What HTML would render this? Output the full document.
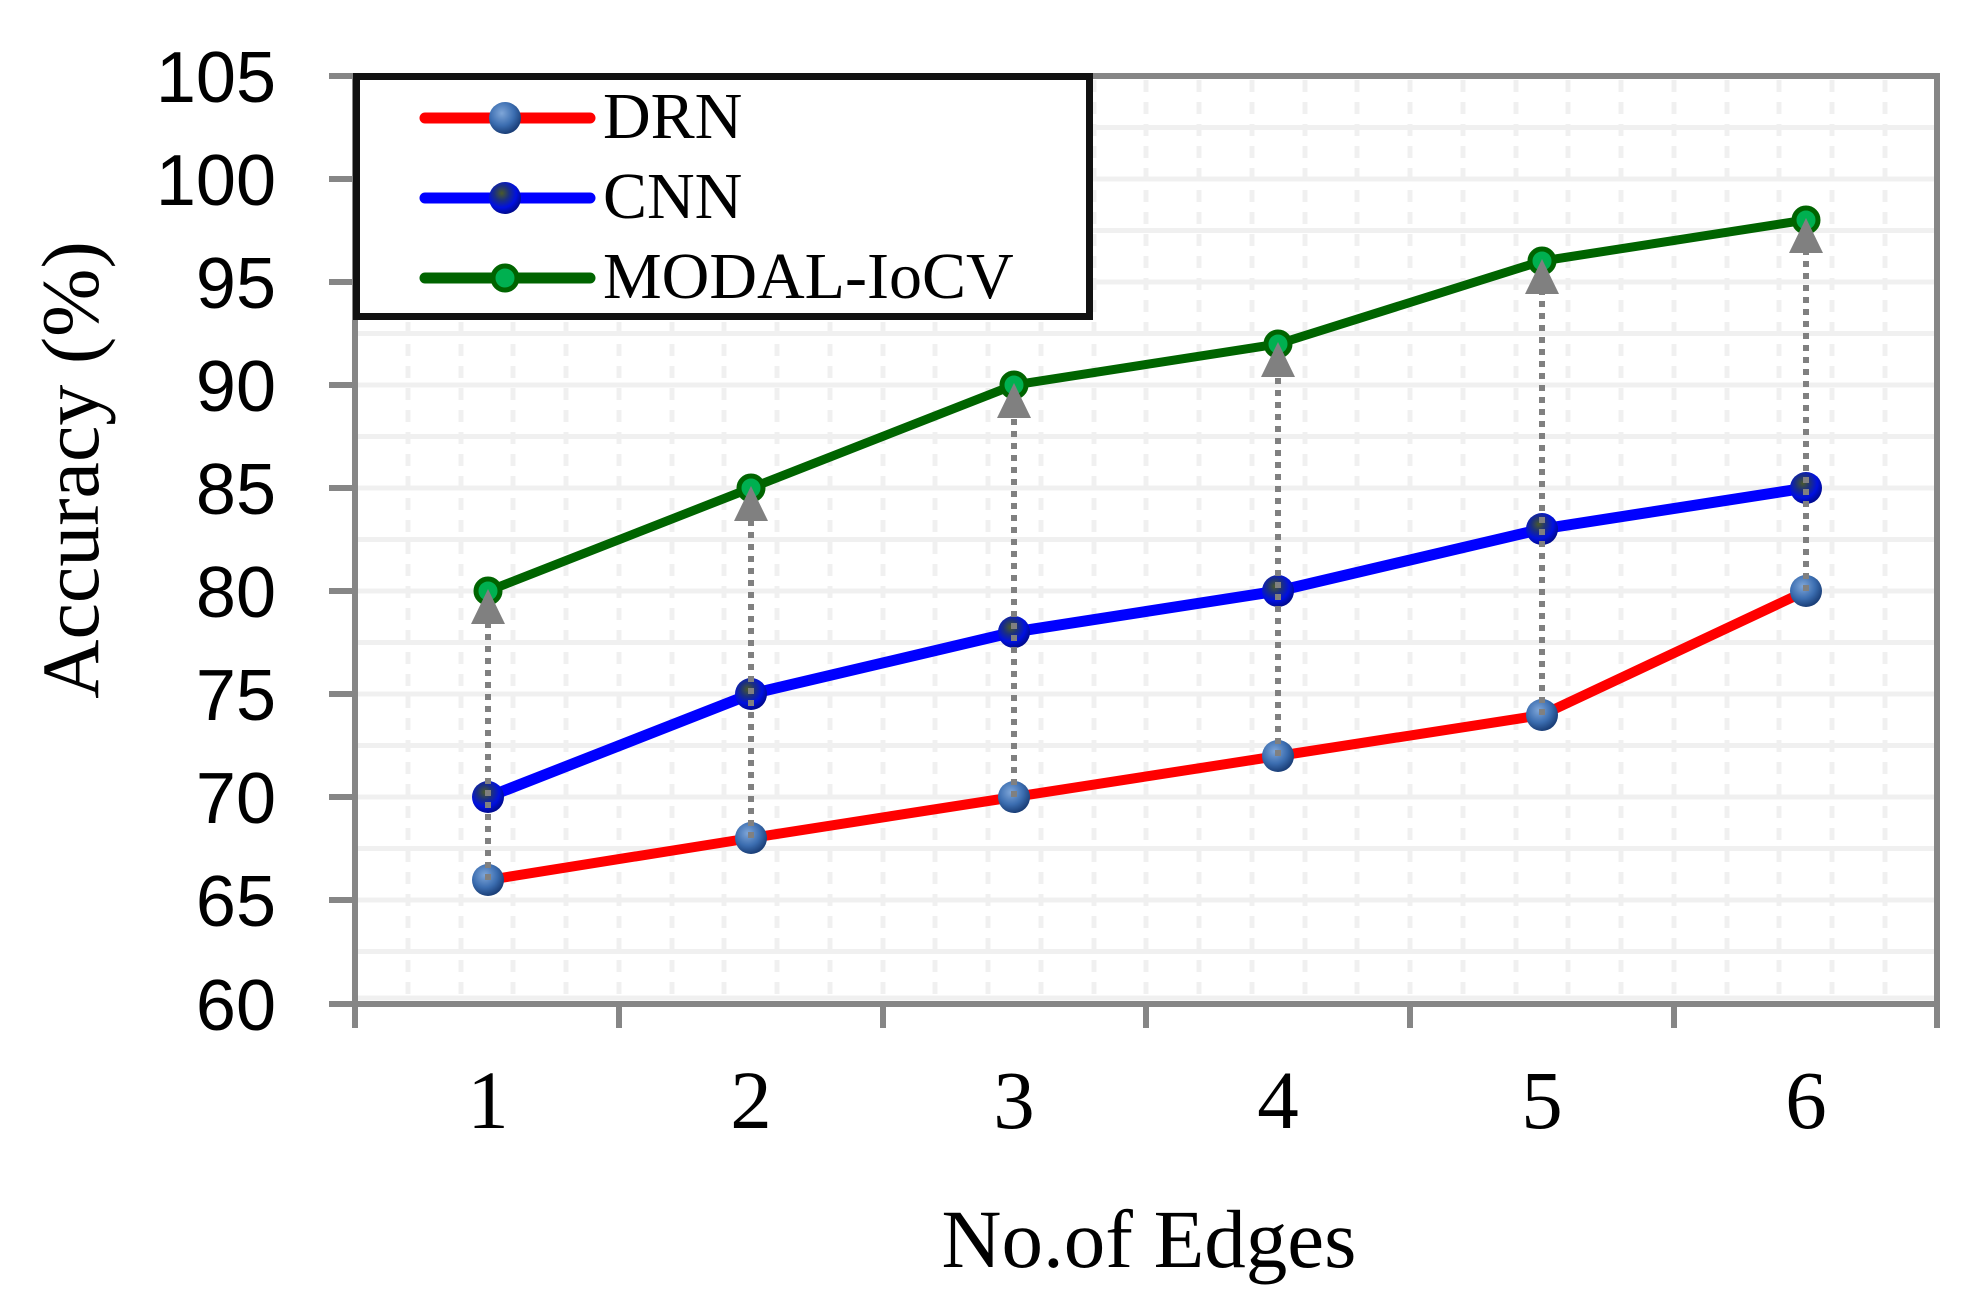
<!DOCTYPE html>
<html><head><meta charset="utf-8"><style>
html,body{margin:0;padding:0;background:#fff;}
svg{display:block;}
</style></head><body>
<svg width="1977" height="1299" viewBox="0 0 1977 1299" xmlns="http://www.w3.org/2000/svg">
<defs>
<radialGradient id="gb" cx="40%" cy="35%" r="65%">
<stop offset="0" stop-color="#7fa6d8"/><stop offset="0.6" stop-color="#3b6db0"/><stop offset="1" stop-color="#1b3f78"/>
</radialGradient>
<radialGradient id="gc" cx="40%" cy="35%" r="65%">
<stop offset="0" stop-color="#4a5a2a"/><stop offset="0.35" stop-color="#1b2f80"/><stop offset="0.7" stop-color="#0010e0"/><stop offset="1" stop-color="#000a90"/>
</radialGradient>
</defs>
<rect width="1977" height="1299" fill="#fff"/>
<!-- grid -->
<g stroke="#f0f0f0" stroke-width="5">
<line x1="358" x2="1937" y1="127.5" y2="127.5"/><line x1="358" x2="1937" y1="179" y2="179"/>
<line x1="358" x2="1937" y1="230.5" y2="230.5"/><line x1="358" x2="1937" y1="282" y2="282"/>
<line x1="358" x2="1937" y1="333.5" y2="333.5"/><line x1="358" x2="1937" y1="385" y2="385"/>
<line x1="358" x2="1937" y1="436.5" y2="436.5"/><line x1="358" x2="1937" y1="488" y2="488"/>
<line x1="358" x2="1937" y1="539.5" y2="539.5"/><line x1="358" x2="1937" y1="591" y2="591"/>
<line x1="358" x2="1937" y1="642.5" y2="642.5"/><line x1="358" x2="1937" y1="694" y2="694"/>
<line x1="358" x2="1937" y1="745.5" y2="745.5"/><line x1="358" x2="1937" y1="797" y2="797"/>
<line x1="358" x2="1937" y1="848.5" y2="848.5"/><line x1="358" x2="1937" y1="900" y2="900"/>
<line x1="358" x2="1937" y1="951.5" y2="951.5"/><line x1="358" x2="1937" y1="998" y2="998"/>
</g>
<g stroke="#f0f0f0" stroke-width="5" stroke-dasharray="12 10">
<line x1="408" x2="408" y1="80" y2="1000"/><line x1="461" x2="461" y1="80" y2="1000"/>
<line x1="513" x2="513" y1="80" y2="1000"/><line x1="566" x2="566" y1="80" y2="1000"/>
<line x1="619" x2="619" y1="80" y2="1000"/><line x1="672" x2="672" y1="80" y2="1000"/>
<line x1="724" x2="724" y1="80" y2="1000"/><line x1="777" x2="777" y1="80" y2="1000"/>
<line x1="830" x2="830" y1="80" y2="1000"/><line x1="883" x2="883" y1="80" y2="1000"/>
<line x1="935" x2="935" y1="80" y2="1000"/><line x1="988" x2="988" y1="80" y2="1000"/>
<line x1="1041" x2="1041" y1="80" y2="1000"/><line x1="1094" x2="1094" y1="80" y2="1000"/>
<line x1="1146" x2="1146" y1="80" y2="1000"/><line x1="1199" x2="1199" y1="80" y2="1000"/>
<line x1="1252" x2="1252" y1="80" y2="1000"/><line x1="1305" x2="1305" y1="80" y2="1000"/>
<line x1="1357" x2="1357" y1="80" y2="1000"/><line x1="1410" x2="1410" y1="80" y2="1000"/>
<line x1="1463" x2="1463" y1="80" y2="1000"/><line x1="1516" x2="1516" y1="80" y2="1000"/>
<line x1="1568" x2="1568" y1="80" y2="1000"/><line x1="1621" x2="1621" y1="80" y2="1000"/>
<line x1="1674" x2="1674" y1="80" y2="1000"/><line x1="1727" x2="1727" y1="80" y2="1000"/>
<line x1="1779" x2="1779" y1="80" y2="1000"/><line x1="1832" x2="1832" y1="80" y2="1000"/>
<line x1="1885" x2="1885" y1="80" y2="1000"/>
</g>
<!-- axes frame -->
<g stroke="#868686" stroke-width="6" fill="none">
<rect x="355" y="76" width="1582" height="928"/>
<line x1="329" x2="355" y1="76" y2="76"/><line x1="329" x2="355" y1="179" y2="179"/>
<line x1="329" x2="355" y1="282" y2="282"/><line x1="329" x2="355" y1="385" y2="385"/>
<line x1="329" x2="355" y1="488" y2="488"/><line x1="329" x2="355" y1="591" y2="591"/>
<line x1="329" x2="355" y1="694" y2="694"/><line x1="329" x2="355" y1="797" y2="797"/>
<line x1="329" x2="355" y1="900" y2="900"/><line x1="329" x2="355" y1="1004" y2="1004"/>
<line x1="355" x2="355" y1="1004" y2="1028"/><line x1="619" x2="619" y1="1004" y2="1028"/>
<line x1="883" x2="883" y1="1004" y2="1028"/><line x1="1146" x2="1146" y1="1004" y2="1028"/>
<line x1="1410" x2="1410" y1="1004" y2="1028"/><line x1="1674" x2="1674" y1="1004" y2="1028"/>
<line x1="1937" x2="1937" y1="1004" y2="1028"/>
</g>
<!-- y tick labels -->
<g font-family="Liberation Sans, sans-serif" font-size="72" text-anchor="end" fill="#000">
<text x="276" y="102">105</text><text x="276" y="205">100</text><text x="276" y="308">95</text>
<text x="276" y="411">90</text><text x="276" y="514">85</text><text x="276" y="617">80</text>
<text x="276" y="720">75</text><text x="276" y="823">70</text><text x="276" y="926">65</text>
<text x="276" y="1030">60</text>
</g>
<!-- x tick labels -->
<g font-family="Liberation Serif, serif" font-size="83" text-anchor="middle" fill="#000">
<text x="488" y="1128">1</text><text x="751" y="1128">2</text><text x="1014" y="1128">3</text>
<text x="1278" y="1128">4</text><text x="1542" y="1128">5</text><text x="1806" y="1128">6</text>
</g>
<text x="1149" y="1267" font-family="Liberation Serif, serif" font-size="83" text-anchor="middle">No.of Edges</text>
<text transform="translate(98,470) rotate(-90)" font-family="Liberation Serif, serif" font-size="82" text-anchor="middle">Accuracy (%)</text>
<!-- series lines -->
<polyline fill="none" stroke="#ff0000" stroke-width="10" stroke-linejoin="round" points="488,880 751,838 1014,797 1278,756 1542,715 1806,591"/>
<polyline fill="none" stroke="#0000ff" stroke-width="11" stroke-linejoin="round" points="488,797 751,694 1014,632 1278,591 1542,529 1806,488"/>
<polyline fill="none" stroke="#006400" stroke-width="9" stroke-linejoin="round" points="488,591 751,488 1014,385 1278,344 1542,261 1806,220"/>
<!-- markers -->
<g fill="url(#gb)">
<circle cx="488" cy="880" r="16"/><circle cx="751" cy="838" r="16"/><circle cx="1014" cy="797" r="16"/>
<circle cx="1278" cy="756" r="16"/><circle cx="1542" cy="715" r="16"/><circle cx="1806" cy="591" r="16"/>
</g>
<g fill="url(#gc)">
<circle cx="488" cy="797" r="16"/><circle cx="751" cy="694" r="16"/><circle cx="1014" cy="632" r="16"/>
<circle cx="1278" cy="591" r="16"/><circle cx="1542" cy="529" r="16"/><circle cx="1806" cy="488" r="16"/>
</g>
<g fill="#00b050" stroke="#006400" stroke-width="5">
<circle cx="488" cy="591" r="12"/><circle cx="751" cy="488" r="12"/><circle cx="1014" cy="385" r="12"/>
<circle cx="1278" cy="344" r="12"/><circle cx="1542" cy="261" r="12"/><circle cx="1806" cy="220" r="12"/>
</g>
<!-- arrows -->
<g stroke="#808080" stroke-width="6" stroke-dasharray="6 6">
<line x1="488" x2="488" y1="880" y2="620"/><line x1="751" x2="751" y1="838" y2="517"/>
<line x1="1014" x2="1014" y1="797" y2="414"/><line x1="1278" x2="1278" y1="756" y2="373"/>
<line x1="1542" x2="1542" y1="715" y2="290"/><line x1="1806" x2="1806" y1="591" y2="249"/>
</g>
<g fill="#808080">
<polygon points="488,589 471,624 505,624"/><polygon points="751,486 734,521 768,521"/>
<polygon points="1014,383 997,418 1031,418"/><polygon points="1278,342 1261,377 1295,377"/>
<polygon points="1542,259 1525,294 1559,294"/><polygon points="1806,218 1789,253 1823,253"/>
</g>
<!-- legend -->
<rect x="356.5" y="76.5" width="733" height="240" fill="#fff" stroke="#111" stroke-width="7"/>
<g stroke-width="11" stroke-linecap="round">
<line x1="425" x2="590" y1="118" y2="118" stroke="#ff0000"/>
<line x1="425" x2="590" y1="198" y2="198" stroke="#0000ff"/>
<line x1="425" x2="590" y1="278" y2="278" stroke="#006400"/>
</g>
<circle cx="505" cy="118" r="16" fill="url(#gb)"/>
<circle cx="505" cy="198" r="16" fill="url(#gc)"/>
<circle cx="505" cy="278" r="12" fill="#00b050" stroke="#006400" stroke-width="5"/>
<g font-family="Liberation Serif, serif" font-size="66" fill="#000">
<text x="603" y="138">DRN</text><text x="603" y="218">CNN</text><text x="603" y="298">MODAL-IoCV</text>
</g>
</svg>
</body></html>
